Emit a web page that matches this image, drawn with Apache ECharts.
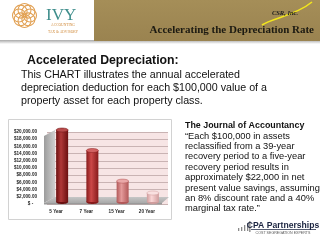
<!DOCTYPE html>
<html><head><meta charset="utf-8">
<script src="https://cdn.jsdelivr.net/npm/echarts@6/dist/echarts.min.js"></script>
<style>html,body{margin:0;padding:0;background:#fff}#c{width:320px;height:240px}</style>
</head><body><div id="c"></div>
<script>
// ---- data ----
const categories = ['5 Year', '7 Year', '15 Year', '20 Year'];
const values = [20000, 14300, 5800, 2500];
const yTickValues = [0, 2000, 4000, 6000, 8000, 10000, 12000, 14000, 16000, 18000, 20000];
const yTickLabels = ['$ -   ', '$2,000.00', '$4,000.00', '$6,000.00', '$8,000.00', '$10,000.00',
  '$12,000.00', '$14,000.00', '$16,000.00', '$18,000.00', '$20,000.00'];
const paragraphLines = [
  'This CHART illustrates the annual accelerated',
  'depreciation deduction for each $100,000 value of a',
  'property asset for each property class.'
];
const quoteTitle = 'The Journal of Accountancy';
const quoteLines = [
  '\u201CEach $100,000 in assets',
  'reclassified from a 39-year',
  'recovery period to a five-year',
  'recovery period results in',
  'approximately $22,000 in net',
  'present value savings, assuming',
  'an 8% discount rate and a 40%',
  'marginal tax rate.\u201D'
];

// ---- styles ----
const barStyles = [
  {dark: '#6a1010', mid: '#b03838', top: '#b84a4a'},
  {dark: '#861a1a', mid: '#cc4848', top: '#d26262'},
  {dark: '#b25858', mid: '#e49a9a', top: '#eaa8a8'},
  {dark: '#cf9c9c', mid: '#fad6d6', top: '#f9e0e0'}
];

const chart = echarts.init(document.getElementById('c'), null, {renderer: 'canvas'});

const graphics = [];
// header banner
graphics.push({type: 'rect', z: 10, shape: {x: 0, y: 40, width: 320, height: 4},
  style: {fill: new echarts.graphic.LinearGradient(0, 0, 0, 1, [{offset: 0, color: '#a8a8a8'}, {offset: 1, color: '#ffffff'}])}});
graphics.push({type: 'rect', z: 10, shape: {x: 94, y: 0, width: 226, height: 41},
  style: {fill: new echarts.graphic.LinearGradient(0, 0, 0, 1, [{offset: 0, color: '#a58e58'}, {offset: 1, color: '#9a8350'}])}});
graphics.push({type: 'bezierCurve', z: 11, shape: {x1: 262, y1: 25, x2: 312, y2: 2, cpx1: 272, cpy1: 18, cpx2: 295, cpy2: 16},
  style: {stroke: '#f3e61c', lineWidth: 1.6, fill: null}});
graphics.push({type: 'text', z: 12, x: 285, y: 13,
  style: {text: 'CSR, Inc.', font: 'italic bold 6.5px "Liberation Serif"', fill: '#1a1a1a', align: 'center', verticalAlign: 'middle'}});
graphics.push({type: 'text', z: 12, x: 314, y: 30,
  style: {text: 'Accelerating the Depreciation Rate', font: 'bold 11px "Liberation Serif"', fill: '#1c1a12', align: 'right', verticalAlign: 'middle'}});
// IVY logo
for (let k = 0; k < 8; k++) {
  const a = k * Math.PI / 4;
  graphics.push({type: 'circle', z: 11, shape: {cx: 24.5 + 5.5 * Math.cos(a), cy: 15.5 + 5.5 * Math.sin(a), r: 6.5},
    style: {stroke: '#e2a256', lineWidth: 1.1, fill: null}});
}
graphics.push({type: 'text', z: 12, x: 46, y: 16,
  style: {text: 'IVY', font: '17px "Liberation Serif"', fill: '#3f8e8c', verticalAlign: 'middle'}});
graphics.push({type: 'text', z: 12, x: 63, y: 25.5,
  style: {text: 'ACCOUNTING', font: '3.6px "Liberation Serif"', fill: '#d08a3a', align: 'center', verticalAlign: 'middle'}});
graphics.push({type: 'text', z: 12, x: 63, y: 32,
  style: {text: 'TAX & ADVISORY', font: '3.6px "Liberation Serif"', fill: '#d08a3a', align: 'center', verticalAlign: 'middle'}});

// headings & paragraph
graphics.push({type: 'text', z: 12, x: 27, y: 61,
  style: {text: 'Accelerated Depreciation:', font: 'bold 12.3px "Liberation Sans"', fill: '#111', verticalAlign: 'middle'}});
paragraphLines.forEach((t, i) => graphics.push({type: 'text', z: 12, x: 21, y: 75.5 + i * 13,
  style: {text: t, font: '10.7px "Liberation Sans"', fill: '#111', verticalAlign: 'middle'}}));
graphics.push({type: 'text', z: 12, x: 185, y: 125.5,
  style: {text: quoteTitle, font: 'bold 8.9px "Liberation Sans"', fill: '#111', verticalAlign: 'middle'}});
quoteLines.forEach((t, i) => graphics.push({type: 'text', z: 12, x: 185, y: 136 + i * 10.4,
  style: {text: t, font: '9.3px "Liberation Sans"', fill: '#111', verticalAlign: 'middle'}}));

// CPA Partnerships logo
[[238, 3], [241, 4], [244, 6], [247, 8]].forEach(([x, h]) => graphics.push({type: 'rect', z: 12,
  shape: {x: x, y: 231 - h, width: 1.3, height: h}, style: {fill: '#8a8a8a'}}));
graphics.push({type: 'rect', z: 12, shape: {x: 249.5, y: 221, width: 0.8, height: 11}, style: {fill: '#333'}});
graphics.push({type: 'text', z: 12, x: 283, y: 225.5,
  style: {text: 'CPA Partnerships', font: 'bold 8.6px "Liberation Sans"', fill: '#1b2440', align: 'center', verticalAlign: 'middle'}});
graphics.push({type: 'rect', z: 12, shape: {x: 251, y: 229.3, width: 65, height: 0.7}, style: {fill: '#1b2440'}});
graphics.push({type: 'text', z: 12, x: 283, y: 232.8,
  style: {text: 'COST SEGREGATION EXPERTS', font: '3.6px "Liberation Sans"', fill: '#555', align: 'center', verticalAlign: 'middle'}});

// chart frame, side wall, floor
graphics.push({type: 'rect', z: -5, shape: {x: 8.5, y: 119.5, width: 163, height: 100},
  style: {fill: null, stroke: '#d2d2d2', lineWidth: 1}});
graphics.push({type: 'polygon', z: 1, shape: {points: [[44, 136], [55, 130], [55, 197], [44, 203]]},
  style: {fill: new echarts.graphic.LinearGradient(0, 0, 1, 0, [{offset: 0, color: '#9c9c9c'}, {offset: 1, color: '#cfcfcf'}])}});
graphics.push({type: 'polygon', z: 1, shape: {points: [[44, 203], [55, 197], [169, 197], [162, 203]]},
  style: {fill: new echarts.graphic.LinearGradient(0, 0, 0, 1, [{offset: 0, color: '#c6c6c6'}, {offset: 1, color: '#a9a9a9'}])}});
graphics.push({type: 'polygon', z: 1, shape: {points: [[44, 203], [162, 203], [162, 204.5], [44, 204.5]]},
  style: {fill: '#9a9a9a'}});

const option = {
  animation: false,
  backgroundColor: '#ffffff',
  grid: {left: 47, right: 152, top: 132, bottom: 36, show: true, backgroundColor: '#f7e5e5', borderWidth: 0},
  xAxis: {
    type: 'category', data: categories,
    axisLine: {show: false}, axisTick: {show: false}, splitLine: {show: false},
    axisLabel: {fontSize: 4.6, color: '#222', fontWeight: 'bold', margin: 5, padding: [0, 12, 0, 0], fontFamily: 'Liberation Sans'}
  },
  yAxis: {
    type: 'value', min: 0, max: 20000, interval: 2000,
    axisLine: {show: false}, axisTick: {show: false},
    splitLine: {show: true, lineStyle: {color: '#c9b3b3', width: 1}},
    axisLabel: {fontSize: 4.6, color: '#222', fontWeight: 'bold', margin: 10, fontFamily: 'Liberation Sans',
      formatter: v => yTickLabels[yTickValues.indexOf(v)]}
  },
  graphic: {elements: graphics},
  series: [{
    type: 'custom', z: 5,
    data: values.map((v, i) => [i, v]),
    renderItem: (params, api) => {
      const i = api.value(0), v = api.value(1);
      const top = api.coord([i, v]), base = api.coord([i, 0]);
      const w = 12, off = 2, eh = 4;
      const cx = top[0], yt = top[1] - off, yb = base[1] - off;
      const s = barStyles[params.dataIndex];
      const grad = new echarts.graphic.LinearGradient(0, 0, 1, 0, [
        {offset: 0, color: s.dark}, {offset: 0.4, color: s.mid}, {offset: 1, color: s.dark}]);
      return {type: 'group', children: [
        {type: 'ellipse', shape: {cx: cx, cy: yb, rx: w / 2, ry: eh / 2}, style: {fill: s.dark}},
        {type: 'rect', shape: {x: cx - w / 2, y: yt, width: w, height: yb - yt}, style: {fill: grad}},
        {type: 'ellipse', shape: {cx: cx, cy: yt, rx: w / 2, ry: eh / 2}, style: {fill: s.top, stroke: s.dark, lineWidth: 0.5}}
      ]};
    }
  }]
};
chart.setOption(option);
</script>
</body></html>
